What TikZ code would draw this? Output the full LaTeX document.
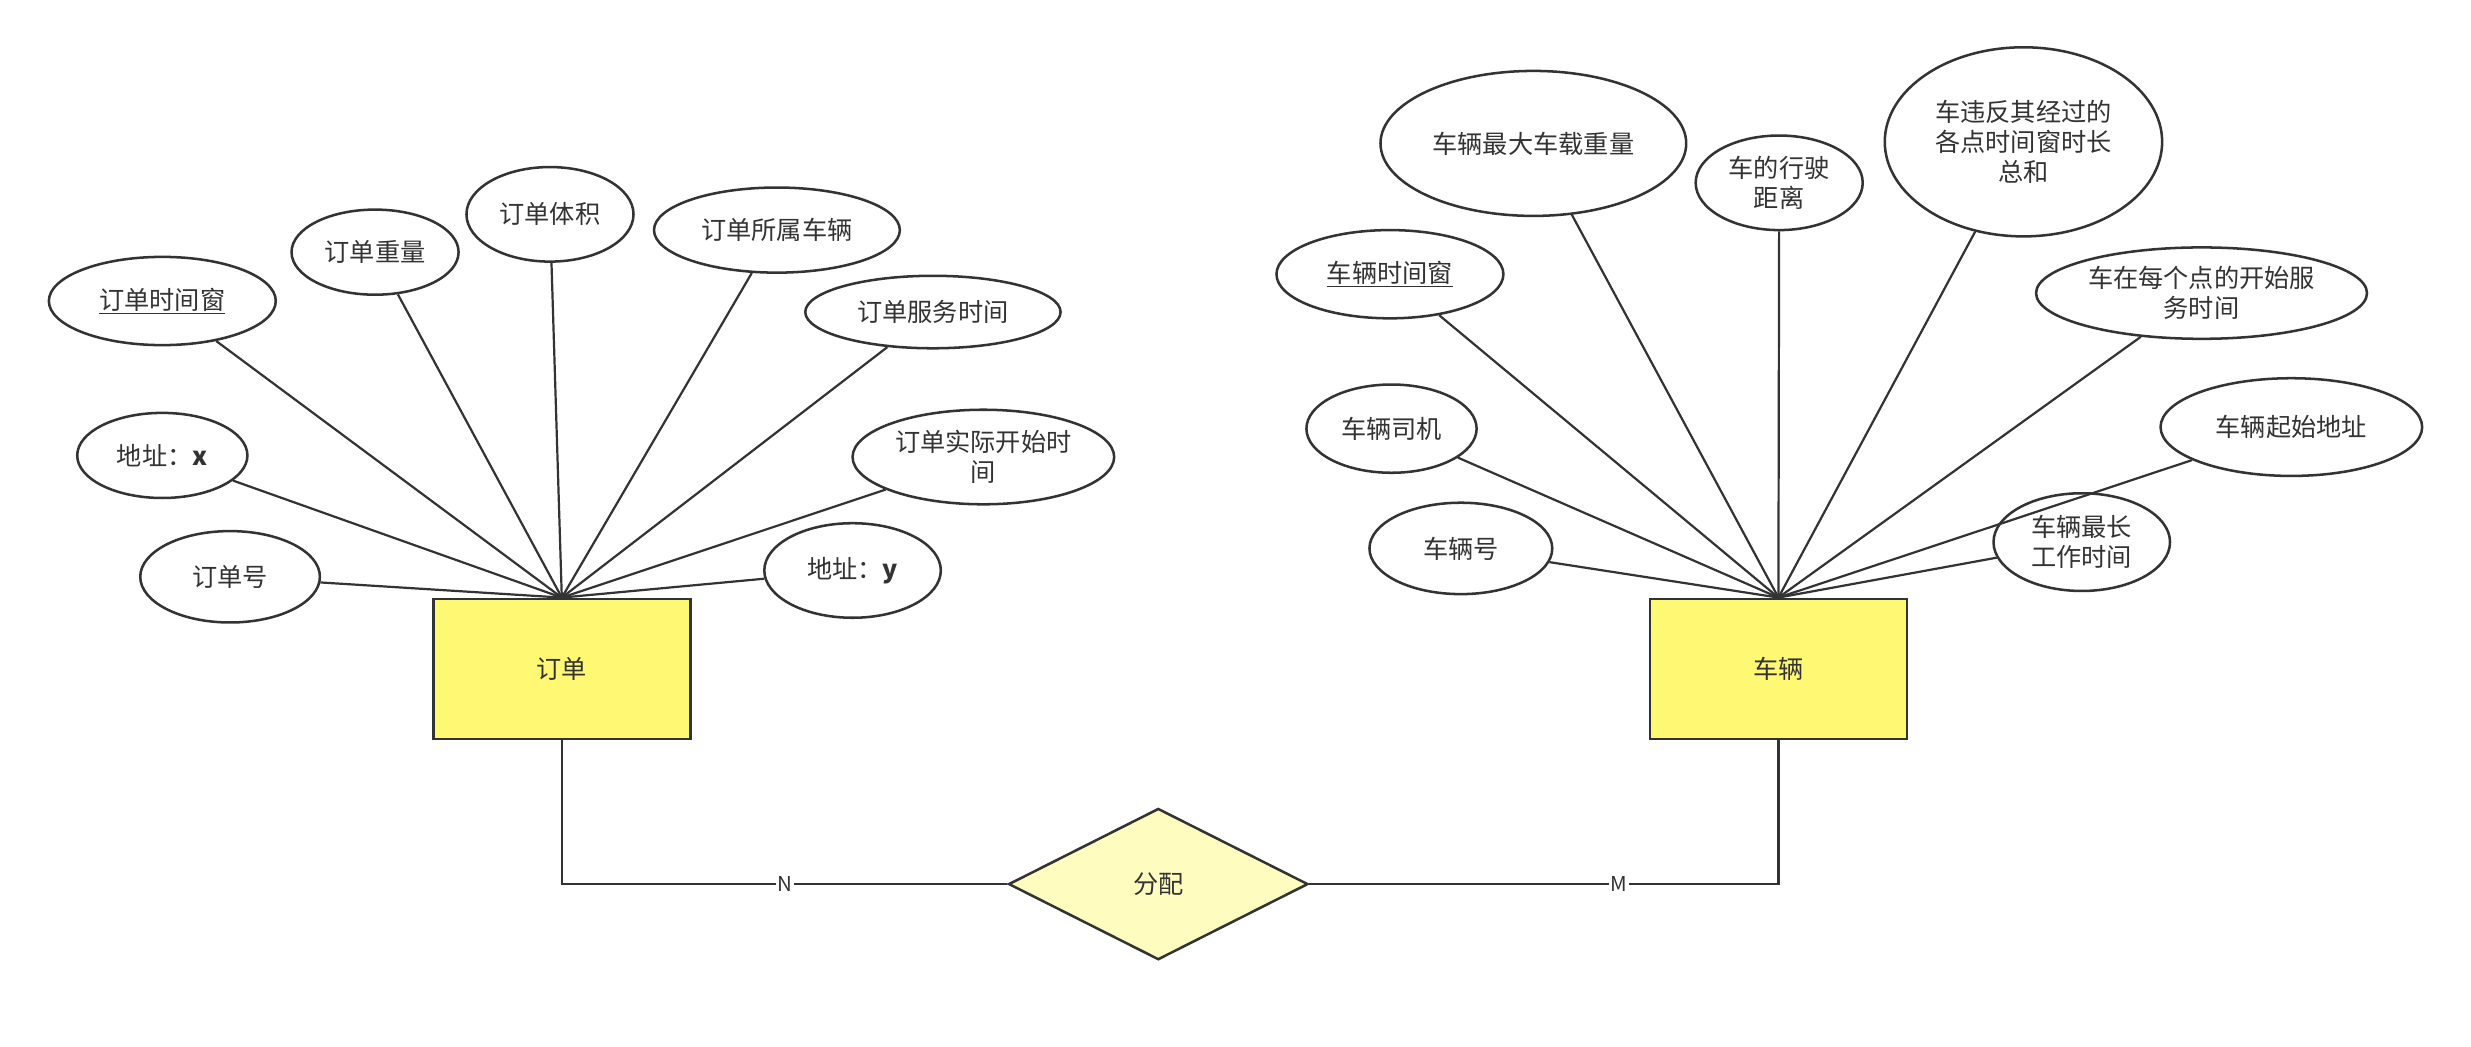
\documentclass[tikz,border=0pt]{standalone}
\usepackage{fontspec}
\setmainfont{Noto Sans CJK SC}
\usetikzlibrary{shapes.geometric}
\definecolor{ln}{HTML}{333333}
\tikzset{
 attr/.style={ellipse,draw=ln,line width=1.6pt,fill=white,inner sep=0pt,align=center,font=\fontsize{16}{19}\selectfont,text=ln},
 ent/.style={rectangle,draw=ln,line width=1.6pt,fill=yellow!55!white,minimum width=163pt,minimum height=89pt,font=\fontsize{16}{19}\selectfont,text=ln},
 conn/.style={draw=ln,line width=1.4pt},
 lbl/.style={fill=white,inner sep=1pt,font=\fontsize{13}{15}\selectfont,text=ln}
}
\begin{document}
\begin{tikzpicture}[x=1pt,y=-1pt]
\useasboundingbox[fill=white] (0,0) rectangle (1568,664);
\node[ent] (o) at (356.5,424.5) {订单};
\node[ent] (c) at (1128.5,424.5) {车辆};
\node[diamond,draw=ln,line width=1.6pt,fill=yellow!25!white,minimum width=190pt,minimum height=96pt,inner sep=0pt,aspect=2,font=\fontsize{16}{19}\selectfont,text=ln] (r) at (735,561) {分配};
\def\ell#1#2#3#4#5#6{\node[attr,minimum width=#4pt,minimum height=#5pt] (#1) at #2 {#6};}
\ell{a1}{(103,191)}{}{144}{56}{\underline{订单时间窗}}
\ell{a2}{(238,160)}{}{106}{54}{订单重量}
\ell{a3}{(349,136)}{}{106}{60}{订单体积}
\ell{a4}{(493,146)}{}{156}{54}{订单所属车辆}
\ell{a5}{(592,198)}{}{162}{46}{订单服务时间}
\ell{a6}{(103,289)}{}{108}{54}{地址：\textbf{x}}
\ell{a7}{(624,290)}{}{166}{60}{订单实际开始时\\间}
\ell{a8}{(146,366)}{}{114}{58}{订单号}
\ell{a9}{(541,362)}{}{112}{60}{地址：\textbf{y}}
\ell{b1}{(973,91)}{}{194}{92}{车辆最大车载重量}
\ell{b2}{(1129,116)}{}{106}{60}{车的行驶\\距离}
\ell{b3}{(1284,90)}{}{176}{120}{车违反其经过的\\各点时间窗时长\\总和}
\ell{b4}{(882,174)}{}{144}{56}{\underline{车辆时间窗}}
\ell{b5}{(1397,186)}{}{210}{58}{车在每个点的开始服\\务时间}
\ell{b6}{(883,272)}{}{108}{56}{车辆司机}
\ell{b7}{(1454,271)}{}{166}{62}{车辆起始地址}
\ell{b8}{(927,348)}{}{116}{58}{车辆号}
\ell{b9}{(1321,344)}{}{112}{62}{车辆最长\\工作时间}
\foreach \n in {a1,a2,a3,a4,a5,a6,a7,a8,a9} \draw[conn] (\n) -- (o.north);
\foreach \n in {b1,b2,b3,b4,b5,b6,b7,b8,b9} \draw[conn] (\n) -- (c.north);
\draw[conn] (o.south) |- node[pos=0.75,lbl]{N} (r.west);
\draw[conn] (r.east) -| node[pos=0.33,lbl]{M} (c.south);
\end{tikzpicture}
\end{document}
